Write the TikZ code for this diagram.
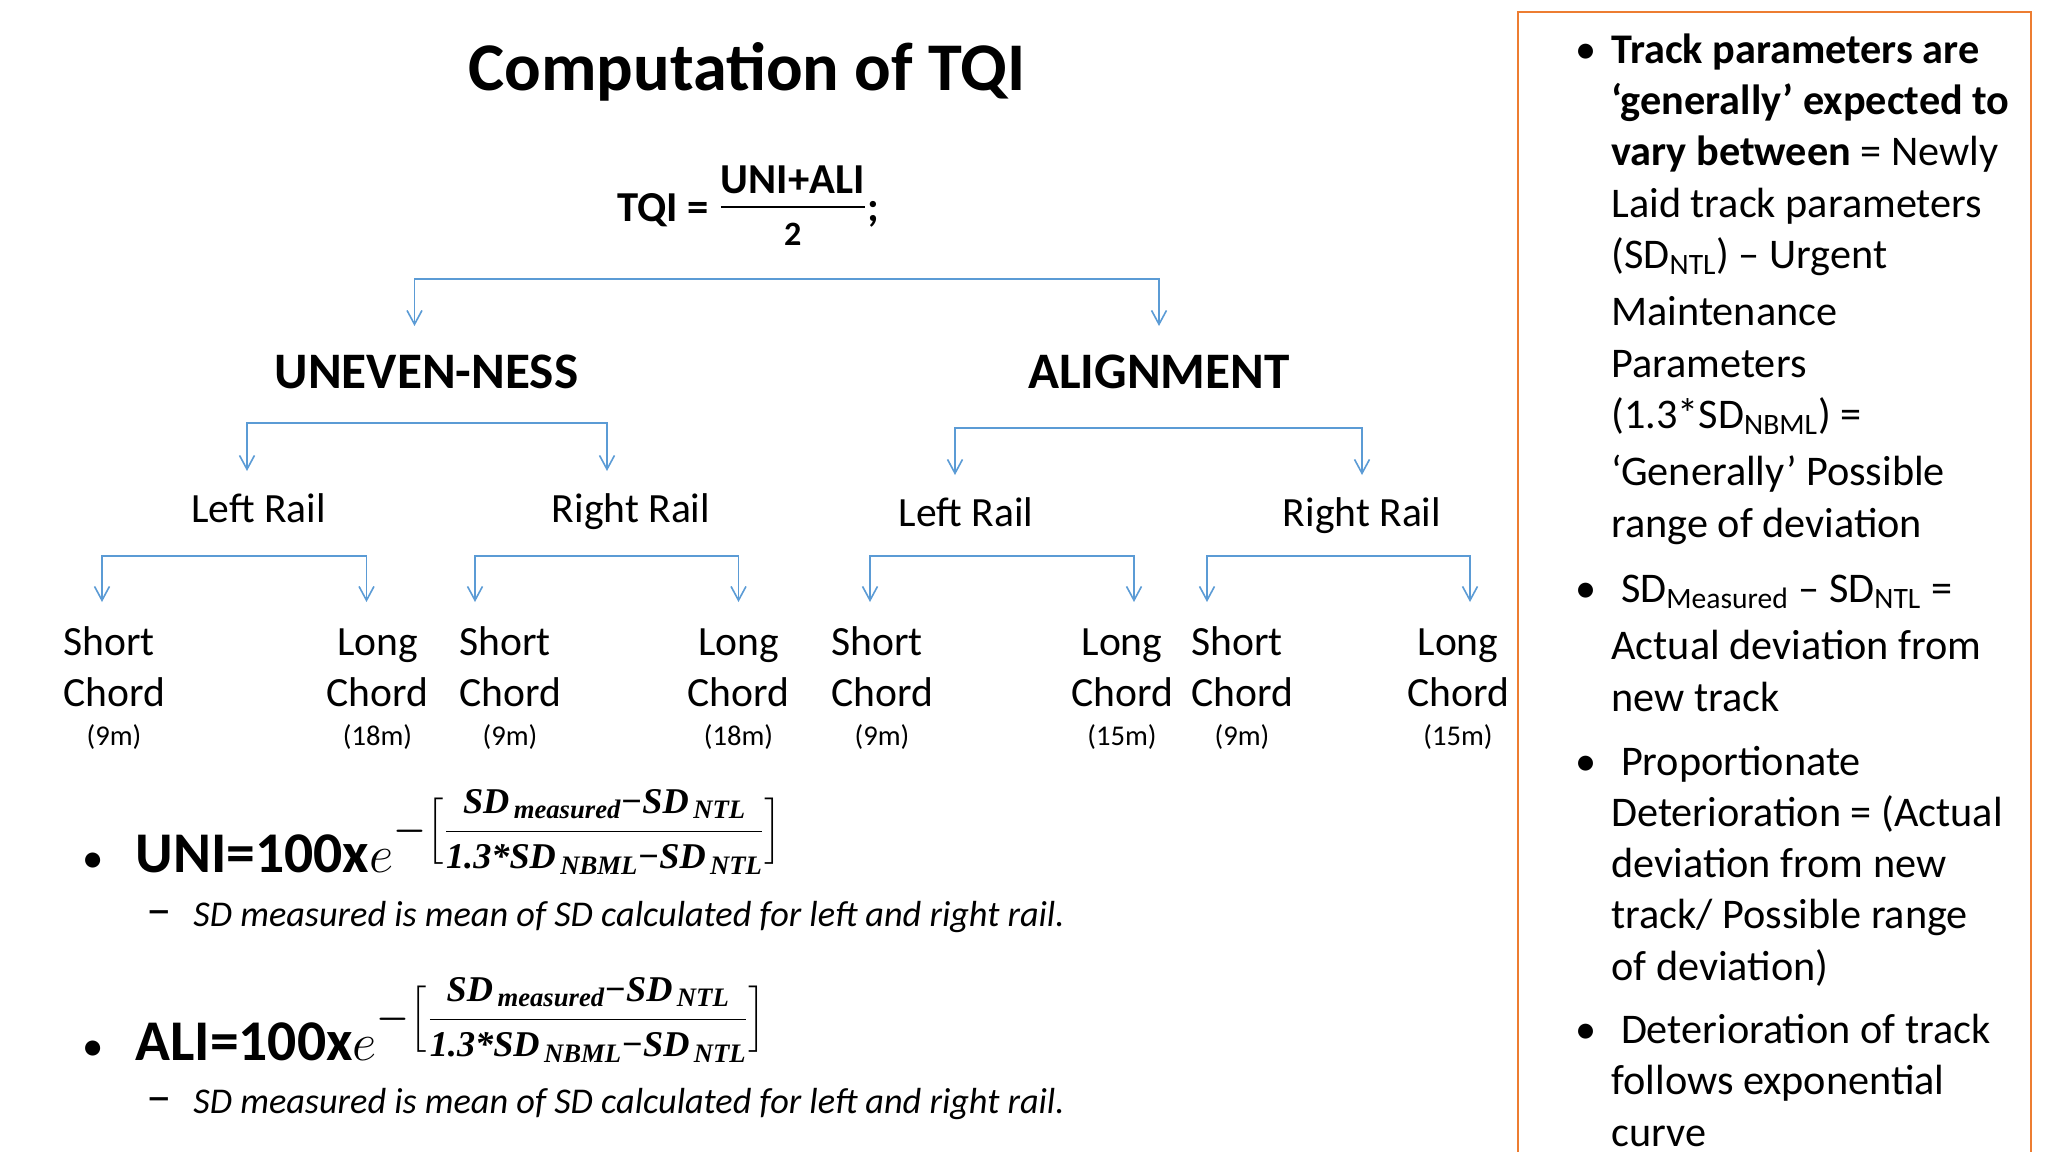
\documentclass[tikz,border=0pt]{standalone}
\usepackage{amsmath}
\usepackage{fontspec}
\setmainfont{Carlito}
\newfontfamily\eqfont{Liberation Serif}
\usetikzlibrary{arrows.meta,calc}
\definecolor{linkblue}{HTML}{5B9BD5}
\definecolor{boxorange}{HTML}{ED7D31}
\newcommand{\bul}[1]{\makebox[0pt][r]{\mdseries •\hspace{#1}}}
\newcommand{\dashmark}[1]{\makebox[0pt][r]{\upshape\fontsize{24}{24}\selectfont –\hspace{#1}}}
\newcommand{\lowsub}[1]{\raisebox{-2.5pt}{\fontsize{12.5}{14}\selectfont\,#1}}
\newcommand{\sdexp}{{\fontsize{17}{20}\selectfont\boldmath\eqfont\bfseries\itshape
  $-\Bigl[\dfrac{\mbox{SD\lowsub{measured}−SD\lowsub{NTL}}}
    {\mbox{1.3*SD\lowsub{NBML}−SD\lowsub{NTL}}}\Bigr]$}}

\begin{document}
\begin{tikzpicture}[x=0.46875pt,y=-0.46875pt,
  link/.style={linkblue,line width=0.75pt,
    {Straight Barb[length=6.5pt,width=7pt]}-{Straight Barb[length=6.5pt,width=7pt]}},
  title/.style={anchor=base,font=\bfseries\fontsize{32}{38}\selectfont},
  formula/.style={anchor=base,inner sep=0pt,font=\bfseries\fontsize{20}{24}\selectfont},
  head/.style={anchor=north,inner xsep=0pt,inner ysep=13.5pt,font=\bfseries\fontsize{24}{29}\selectfont},
  rail/.style={anchor=north,inner xsep=0pt,inner ysep=10.3pt,font=\fontsize{19.5}{23.4}\selectfont},
  chord/.style={anchor=north,inner xsep=0pt,inner ysep=11.4pt,align=center,font=\fontsize{19.5}{24}\selectfont},
  eqn/.style={anchor=base west,inner sep=0pt,font=\bfseries\fontsize{27}{32}\selectfont},
  subnote/.style={anchor=base west,inner sep=0pt,font=\itshape\fontsize{17}{20}\selectfont},
  note/.style={anchor=base west,inner sep=0pt,align=left,font=\fontsize{19.8}{24}\selectfont}]
  \useasboundingbox (0,0) rectangle (2048,1152);

  % heading and index formula
  \node[title] (title) at (747,91) {Computation of TQI};
  \node[formula] (tqi) at (748,222)
    {TQI = \raisebox{1.8pt}{$\genfrac{}{}{1.2pt}{0}{\raisebox{-2.3pt}{UNI+ALI}}%
      {\raisebox{1.4pt}{\fontsize{16}{19}\selectfont 2}}$};};

  % first split
  \node[head] (un) at (426.5,326) {UNEVEN-NESS};
  \node[head] (al) at (1159,326) {ALIGNMENT};
  \coordinate (b0) at (786,279);
  \draw[link] ($(un.north)+(-12,0)$) |- (b0) -| (al.north);

  % rails
  \node[rail] (lrU) at (258.5,471) {Left Rail};
  \node[rail] (rrU) at (631,471) {Right Rail};
  \node[rail] (lrA) at (966,475) {Left Rail};
  \node[rail] (rrA) at (1362,475) {Right Rail};
  \coordinate (b1) at (427,423);
  \coordinate (b2) at (1158,428);
  \draw[link] ($(lrU.north)+(-11.5,0)$) |- (b1) -| ($(rrU.north)+(-24,0)$);
  \draw[link] ($(lrA.north)+(-11,0)$) |- (b2) -| (rrA.north);

  % chords
  \node[chord] (sU1) at (114,602) {Short\hspace*{4.5pt}\\Chord\\[-5.7pt]{\fontsize{13.4}{16}\selectfont(9m)}};
  \node[chord] (lU1) at (377.5,602) {\vphantom{h}Long\\Chord\\[-5.7pt]{\fontsize{13.4}{16}\selectfont(18m)}};
  \node[chord] (sU2) at (510,602) {Short\hspace*{4.5pt}\\Chord\\[-5.7pt]{\fontsize{13.4}{16}\selectfont(9m)}};
  \node[chord] (lU2) at (738.5,602) {\vphantom{h}Long\\Chord\\[-5.7pt]{\fontsize{13.4}{16}\selectfont(18m)}};
  \node[chord] (sA1) at (882,602) {Short\hspace*{4.5pt}\\Chord\\[-5.7pt]{\fontsize{13.4}{16}\selectfont(9m)}};
  \node[chord] (lA1) at (1122,602) {\vphantom{h}Long\\Chord\\[-5.7pt]{\fontsize{13.4}{16}\selectfont(15m)}};
  \node[chord] (sA2) at (1242,602) {Short\hspace*{4.5pt}\\Chord\\[-5.7pt]{\fontsize{13.4}{16}\selectfont(9m)}};
  \node[chord] (lA2) at (1458,602) {\vphantom{h}Long\\Chord\\[-5.7pt]{\fontsize{13.4}{16}\selectfont(15m)}};
  \coordinate (b3) at (234,556);
  \coordinate (b4) at (607,556);
  \coordinate (b5) at (1002,556);
  \coordinate (b6) at (1338,556);
  \draw[link] ($(sU1.north)+(-12,0)$) |- (b3) -| ($(lU1.north)+(-11,0)$);
  \draw[link] ($(sU2.north)+(-35,0)$) |- (b4) -| (lU2.north);
  \draw[link] ($(sA1.north)+(-12,0)$) |- (b5) -| ($(lA1.north)+(12,0)$);
  \draw[link] ($(sA2.north)+(-35,0)$) |- (b6) -| ($(lA2.north)+(12,0)$);

  % index formulas
  \node[eqn] (uni) at (135,872)
    {{\fontsize{20}{24}\selectfont\bul{15pt}}UNI=100x$e$\raisebox{14.6pt}{\sdexp}};
  \node[subnote] (uninote) at (193,926)
    {\dashmark{10pt}SD measured is mean of SD calculated for left and right rail.};
  \node[eqn] (ali) at (135,1060)
    {{\fontsize{20}{24}\selectfont\bul{15pt}}ALI=100x$e$\raisebox{14.6pt}{\sdexp}};
  \node[subnote] (alinote) at (193,1113)
    {\dashmark{10pt}SD measured is mean of SD calculated for left and right rail.};

  % side panel
  \draw[boxorange,line width=1pt] (1518,12) rectangle (2031,1165);
  \node[note] (n1) at (1611,537)
    {\bul{6.8pt}\textbf{Track parameters are}\\
     \textbf{‘generally’ expected to}\\
     \textbf{vary between} = Newly\\
     Laid track parameters\\
     (SD\textsubscript{NTL}) – Urgent\\[3pt]
     Maintenance\\
     Parameters\\
     (1.3*SD\textsubscript{NBML}) =\\[3pt]
     ‘Generally’ Possible\\
     range of deviation};
  \node[note] (n2) at (1611,711)
    {\bul{6.8pt}\hspace*{4.5pt}SD\textsubscript{Measured} – SD\textsubscript{NTL} =\\[3pt]
     Actual deviation from\\
     new track};
  \node[note] (n3) at (1611,980)
    {\bul{6.8pt}\hspace*{4.5pt}Proportionate\\
     Deterioration = (Actual\\
     deviation from new\\
     track/ Possible range\\
     of deviation)};
  \node[note] (n4) at (1611,1146)
    {\bul{6.8pt}\hspace*{4.5pt}Deterioration of track\\
     follows exponential\\
     curve};
\end{tikzpicture}
\end{document}
